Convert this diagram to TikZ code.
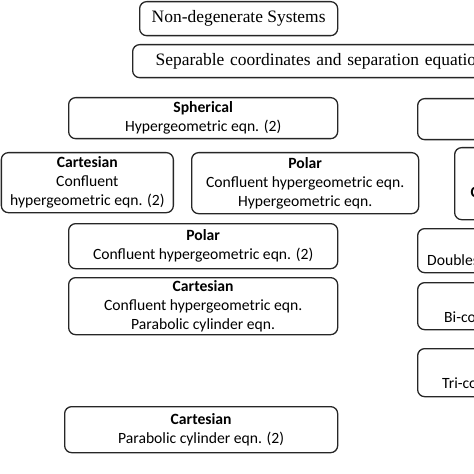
\documentclass[tikz,border=0pt]{standalone}
\usepackage{fontspec}
\setmainfont{Carlito}
\newfontfamily\serifface{Liberation Serif}
\begin{document}
\begin{tikzpicture}[x=1bp, y=-1bp,
      box/.style={draw=black!85, rounded corners=7bp, line width=1.3bp, align=center,
            anchor=north west, inner sep=0pt, font=\fontsize{15.7}{19}\selectfont},
      serifbox/.style={box, font=\serifface\fontsize{17.5}{20}\selectfont},
      cut/.style={anchor=base west, inner sep=0pt, font=\fontsize{15.7}{19}\selectfont}]
%           \draw (0,0) grid (474, 474) {};
            \useasboundingbox (0,0) rectangle (474,474);
            \clip (0,0) rectangle (474,474);
            % top
            \node[serifbox, minimum width=198bp, minimum height=34bp] (sys) at (139, 1) {Non-degenerate Systems};
            \node[serifbox, minimum height=33bp, text width=400bp, align=left, inner xsep=23bp] (sep) at (132, 44) {Separable coordinates and separation equations};
            % left column
            \node[box, minimum width=269bp, minimum height=41bp] (sph) at (68, 97) {\textbf{Spherical}\\Hypergeometric eqn. (2)};
            \node[box, minimum width=172bp, minimum height=60bp] (car1) at (0.7, 152) {\textbf{Cartesian}\\Confluent\\hypergeometric eqn. (2)};
            \node[box, minimum width=227bp, minimum height=61bp] (pol1) at (191, 152) {\textbf{Polar}\\Confluent hypergeometric eqn.\\Hypergeometric eqn.};
            \node[box, minimum width=269bp, minimum height=45bp] (pol2) at (68, 223) {\textbf{Polar}\\Confluent hypergeometric eqn. (2)};
            \node[box, minimum width=269bp, minimum height=57bp] (car2) at (68, 277) {\textbf{Cartesian}\\Confluent hypergeometric eqn.\\Parabolic cylinder eqn.};
            \node[box, minimum width=273bp, minimum height=46bp] (car3) at (64, 406) {\textbf{Cartesian}\\Parabolic cylinder eqn. (2)};
            % right column
            \node[box, minimum width=200bp, minimum height=41bp] (r1) at (417, 98) {};
            \node[box, minimum width=200bp, minimum height=72bp] (r2) at (454, 147) {};
            \node[box, minimum width=200bp, minimum height=44bp] (r3) at (417, 228) {};
            \node[box, minimum width=200bp, minimum height=47bp] (r4) at (417, 282) {};
            \node[box, minimum width=200bp, minimum height=48bp] (r5) at (417, 348) {};
            \node[cut] (r2t) at (470.5, 198) {\textbf{C}};
            \node[cut] (r3t) at (427, 265) {Doubles};
            \node[cut] (r4t) at (444, 322) {Bi-co};
            \node[cut] (r5t) at (442, 388) {Tri-co};
      \end{tikzpicture}
\end{document}
